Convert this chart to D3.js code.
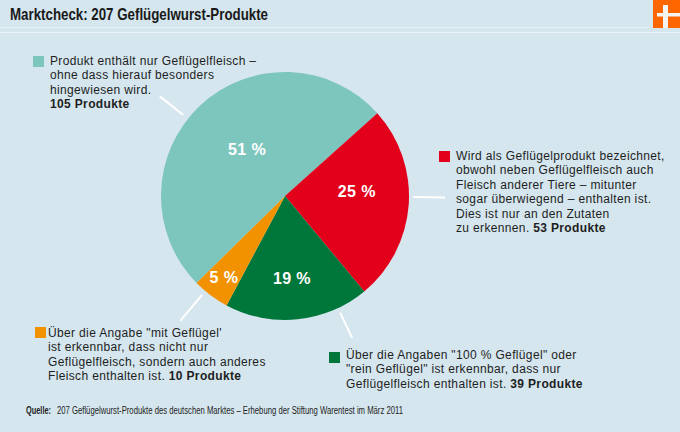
<!DOCTYPE html>
<html><head><meta charset="utf-8">
<script src="https://cdn.jsdelivr.net/npm/d3@7"></script>
<style>
html,body{margin:0;padding:0;background:#d5e6ee;}
svg{display:block;font-family:"Liberation Sans",Arial,sans-serif;}
</style></head><body>
<svg id="c" width="680" height="432"></svg>
<script>
// ---- data ----
const categories = ["nur Geflügelfleisch, nicht hervorgehoben", "Fleisch anderer Tiere, nur an Zutaten erkennbar", "100 % / rein Geflügel", "mit Geflügel"];
const products = [105, 53, 39, 10];
const percentLabels = ["51 %", "25 %", "19 %", "5 %"];
const colors = ["#7dc6bd", "#e2001a", "#00773a", "#f39200"];
const legendTexts = [
  [["Produkt enthält nur Geflügelfleisch –"],["ohne dass hierauf besonders"],["hingewiesen wird."],[null,"105 Produkte"]],
  [["Wird als Geflügelprodukt bezeichnet,"],["obwohl neben Geflügelfleisch auch"],["Fleisch anderer Tiere – mitunter"],["sogar überwiegend – enthalten ist."],["Dies ist nur an den Zutaten"],["zu erkennen. ","53 Produkte"]],
  [["Über die Angaben \"100 % Geflügel\" oder"],["\"rein Geflügel\" ist erkennbar, dass nur"],["Geflügelfleisch enthalten ist. ","39 Produkte"]],
  [["Über die Angabe \"mit Geflügel'"],["ist erkennbar, dass nicht nur"],["Geflügelfleisch, sondern auch anderes"],["Fleisch enthalten ist. ","10 Produkte"]]
];
const title = "Marktcheck: 207 Geflügelwurst-Produkte";
const sourceLabel = "Quelle:";
const source = "207 Geflügelwurst-Produkte des deutschen Marktes – Erhebung der Stiftung Warentest im März 2011";

// ---- layout ----
const svg = d3.select("#c");
const W = 680, H = 432;
svg.append("rect").attr("width",W).attr("height",H).attr("fill","#d5e6ee");

// header
svg.append("line").attr("x1",0).attr("x2",649).attr("y1",27.5).attr("y2",27.5).attr("stroke","#eaf3f7").attr("stroke-width",1);
svg.append("line").attr("x1",0).attr("x2",680).attr("y1",32.5).attr("y2",32.5).attr("stroke","#eaf3f7").attr("stroke-width",1);
svg.append("text").attr("x",10).attr("y",20).attr("font-size",16.5).attr("font-weight","bold")
  .attr("fill","#1a1a1a").attr("textLength",258).attr("lengthAdjust","spacingAndGlyphs").text(title);
// logo
const logo = svg.append("g");
logo.append("rect").attr("x",653).attr("y",0).attr("width",27).attr("height",28).attr("fill","#ff6600");
logo.append("rect").attr("x",663).attr("y",5).attr("width",5).attr("height",23).attr("fill","#f4f4f4");
logo.append("rect").attr("x",657).attr("y",13).attr("width",23).attr("height",3.5).attr("fill","#f4f4f4");

// pie
const cx = 285, cy = 196, R = 124;
const startDeg = 225.5;
const pie = d3.pie().sort(null).value(d=>d)
  .startAngle(startDeg*Math.PI/180).endAngle((startDeg+360)*Math.PI/180);
const arcs = pie(products);
const arc = d3.arc().innerRadius(0).outerRadius(R);
const g = svg.append("g").attr("transform",`translate(${cx},${cy})`);
g.selectAll("path").data(arcs).join("path").attr("d",arc).attr("fill",(d,i)=>colors[i]);

// percentage labels
const labelR = [60, 72, 83, 102];
const labelShift = [4, -8, 1, 0];
g.selectAll("text.pct").data(arcs).join("text").attr("class","pct")
  .attr("transform",(d,i)=>{
    const a = (d.startAngle+d.endAngle)/2 + labelShift[i]*Math.PI/180;
    return `translate(${labelR[i]*Math.sin(a)},${-labelR[i]*Math.cos(a)})`;
  })
  .attr("text-anchor","middle").attr("dy","0.36em")
  .attr("font-size",16).attr("font-weight","bold").attr("fill","#ffffff")
  .attr("letter-spacing",0.4)
  .text((d,i)=>percentLabels[i]);

// leader lines (angle in degrees clockwise from top)
const leaders = [{a:308.5,r0:130,r1:160},{a:90.5,r0:128,r1:160},{a:154.7,r0:129,r1:157},{a:220,r0:129,r1:163}];
g.selectAll("line.lead").data(leaders).join("line").attr("class","lead")
  .attr("x1",d=>d.r0*Math.sin(d.a*Math.PI/180)).attr("y1",d=>-d.r0*Math.cos(d.a*Math.PI/180))
  .attr("x2",d=>d.r1*Math.sin(d.a*Math.PI/180)).attr("y2",d=>-d.r1*Math.cos(d.a*Math.PI/180))
  .attr("stroke","#ffffff").attr("stroke-width",2);

// legends
const legendPos = [{x:50,y:65,sx:33,sy:56},{x:456,y:160,sx:439,sy:151},{x:346,y:359,sx:329,sy:352},{x:48,y:337,sx:35,sy:327}];
const lineH = 14.4;
legendTexts.forEach((lines,i)=>{
  const p = legendPos[i];
  svg.append("rect").attr("x",p.sx).attr("y",p.sy).attr("width",11).attr("height",11).attr("fill",colors[i]);
  const t = svg.append("text").attr("font-size",12).attr("fill","#1e1e1e").attr("letter-spacing",0.35);
  lines.forEach((ln,j)=>{
    const ts = t.append("tspan").attr("x",p.x).attr("y",p.y+j*lineH);
    if(ln[0]!==null) ts.text(ln[0]);
    if(ln[1]!==undefined){
      if(ln[0]===null){ ts.attr("font-weight","bold").text(ln[1]); }
      else t.append("tspan").attr("font-weight","bold").text(ln[1]);
    }
  });
});

// source
svg.append("text").attr("x",26).attr("y",414).attr("font-size",10).attr("font-weight","bold").attr("fill","#1e1e1e")
  .attr("textLength",25).attr("lengthAdjust","spacingAndGlyphs").text(sourceLabel);
svg.append("text").attr("x",57).attr("y",414).attr("font-size",10).attr("fill","#1e1e1e")
  .attr("textLength",346).attr("lengthAdjust","spacingAndGlyphs").text(source);
</script>
</body></html>
